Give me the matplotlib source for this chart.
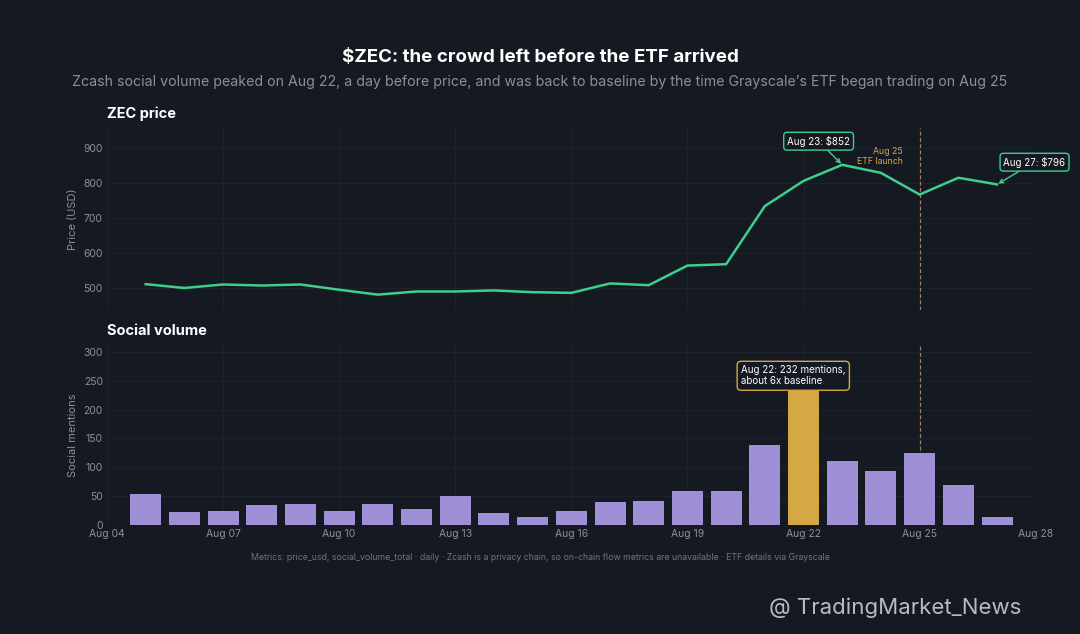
import matplotlib
matplotlib.use("Agg")
import matplotlib.pyplot as plt
import matplotlib.dates as mdates
import numpy as np
import pandas as pd

# data
dates = pd.date_range("2025-08-05", "2025-08-27", freq="D")
price_usd = [511, 500, 510, 507, 510, 495, 481, 490, 490, 493, 488, 486,
             513, 508, 564, 568, 734, 806, 852, 829, 767, 815, 796]
social_volume = [54, 22, 25, 35, 37, 25, 37, 28, 51, 21, 13, 25,
                 40, 42, 59, 59, 139, 232, 111, 94, 125, 70, 14]
tick_dates = pd.to_datetime(["2025-08-04", "2025-08-07", "2025-08-10", "2025-08-13", "2025-08-16",
                             "2025-08-19", "2025-08-22", "2025-08-25", "2025-08-28"])
etf_date = pd.Timestamp("2025-08-25")
peak_date = pd.Timestamp("2025-08-22")

BG = "#151922"
GRID = "#1d212b"
TXT = "#8a8fa0"
GREEN = "#3ecf8e"
PURPLE = "#9e8fd6"
GOLD = "#d6a844"
ETF = "#a08060"

plt.rcParams["font.family"] = ["Inter", "DejaVu Sans"]

fig = plt.figure(figsize=(10.8, 6.34), dpi=100, facecolor=BG)
ax1 = fig.add_axes([0.099, 0.511, 0.860, 0.287], facecolor=BG)
ax2 = fig.add_axes([0.099, 0.172, 0.860, 0.284], facecolor=BG)

xmin, xmax = pd.Timestamp("2025-08-04"), pd.Timestamp("2025-08-28")

for ax in (ax1, ax2):
    ax.set_xlim(xmin, xmax)
    for s in ax.spines.values():
        s.set_visible(False)
    ax.grid(True, color=GRID, linewidth=0.8)
    ax.set_axisbelow(True)
    ax.tick_params(colors=TXT, labelsize=7.5, length=0, pad=3)
    ax.set_xticks(tick_dates)
    ax.xaxis.set_major_formatter(mdates.DateFormatter("%b %d"))
    ax.axvline(etf_date, color=ETF, linestyle=(0, (3, 2)), linewidth=0.9, zorder=1)

# price panel
ax1.plot(dates, price_usd, color=GREEN, linewidth=1.8, zorder=3)
ax1.set_ylim(437, 957)
ax1.set_yticks([500, 600, 700, 800, 900])
ax1.tick_params(axis="x", labelbottom=False)
ax1.set_ylabel("Price (USD)", color=TXT, fontsize=8, labelpad=4)
ax1.text(0.0, 1.04, "ZEC price", transform=ax1.transAxes, color="white",
         fontsize=10.5, fontweight="bold", ha="left", va="bottom")

box_g = dict(boxstyle="round,pad=0.35", fc=BG, ec=GREEN, lw=1.0)
i23 = list(dates).index(pd.Timestamp("2025-08-23"))
ax1.annotate(f"Aug 23: ${price_usd[i23]}", xy=(dates[i23], price_usd[i23]),
             xytext=(-17, 17), textcoords="offset points", ha="center", va="center",
             color="white", fontsize=7, bbox=box_g,
             arrowprops=dict(arrowstyle="->", color=GREEN, lw=1.0, shrinkA=0, shrinkB=1))
ax1.annotate(f"Aug 27: ${price_usd[-1]}", xy=(dates[-1], price_usd[-1]),
             xytext=(27, 16), textcoords="offset points", ha="center", va="center",
             color="white", fontsize=7, bbox=box_g,
             arrowprops=dict(arrowstyle="->", color=GREEN, lw=1.0, shrinkA=0, shrinkB=1))
ax1.annotate("Aug 25\nETF launch", xy=(etf_date, 900), xytext=(-12, -6),
             textcoords="offset points", ha="right", va="center", color=GOLD,
             fontsize=6.3, linespacing=1.2)

# social volume panel
colors = [GOLD if d == peak_date else PURPLE for d in dates]
ax2.bar(dates, social_volume, width=0.8, color=colors, zorder=2)
ax2.set_ylim(0, 312)
ax2.set_yticks([0, 50, 100, 150, 200, 250, 300])
ax2.set_ylabel("Social mentions", color=TXT, fontsize=8, labelpad=4)
ax2.text(0.0, 1.04, "Social volume", transform=ax2.transAxes, color="white",
         fontsize=10.5, fontweight="bold", ha="left", va="bottom")
ipk = list(dates).index(peak_date)
ax2.annotate(f"Aug 22: {social_volume[ipk]} mentions,\nabout 6x baseline",
             xy=(peak_date, social_volume[ipk]), xytext=(-45, 11), textcoords="offset points",
             ha="left", va="center", color="white", fontsize=7, linespacing=1.15,
             bbox=dict(boxstyle="round,pad=0.4", fc=BG, ec=GOLD, lw=1.0))

fig.text(0.5, 0.909, "$ZEC: the crowd left before the ETF arrived", color="white",
         fontsize=13.5, fontweight="bold", ha="center", va="center")
fig.text(0.5, 0.870, "Zcash social volume peaked on Aug 22, a day before price, and was back to "
         "baseline by the time Grayscale\u2019s ETF began trading on Aug 25",
         color=TXT, fontsize=10.2, ha="center", va="center")
fig.text(0.5, 0.120, "Metrics: price_usd, social_volume_total \u00b7 daily \u00b7 Zcash is a privacy chain, "
         "so on-chain flow metrics are unavailable \u00b7 ETF details via Grayscale",
         color="#6f7485", fontsize=6.3, ha="center", va="center")
fig.text(0.712, 0.042, "@ TradingMarket_News", color="#d8d8dc", fontsize=16,
         ha="left", va="center", alpha=0.85)

fig.savefig("out.png", dpi=100, facecolor=BG)
